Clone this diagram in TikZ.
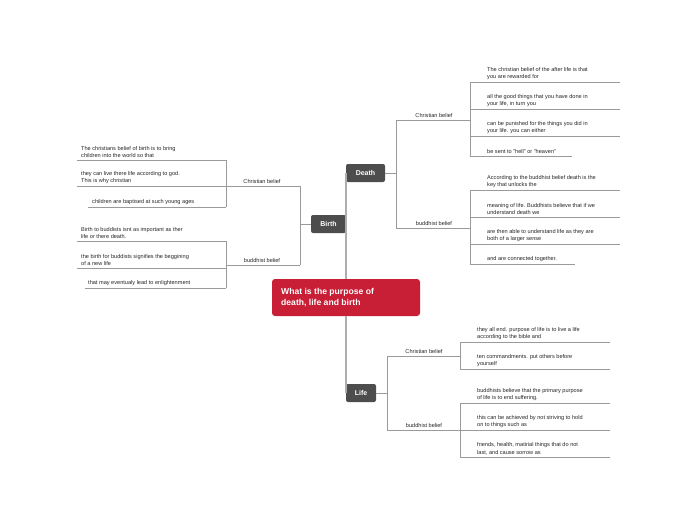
\documentclass[tikz,border=0pt]{standalone}
\usepackage{fontspec}
\setmainfont{Liberation Sans}
\definecolor{rootred}{HTML}{C81E36}
\definecolor{topicgray}{HTML}{4D4D4D}
\definecolor{linegray}{HTML}{9A9A9A}
\tikzset{
  leaf/.style={anchor=south west, inner sep=0pt, align=left, font=\fontsize{5.6}{7.4}\selectfont, text=black!85},
  branchlabel/.style={anchor=south, inner sep=1pt, font=\fontsize{5.6}{7}\selectfont, text=black!85},
  topic/.style={fill=topicgray, text=white, rounded corners=2pt, font=\fontsize{7}{8}\selectfont\bfseries, inner sep=0pt},
  conn/.style={draw=linegray, line width=0.6pt},
  trunk/.style={draw=linegray!80, line width=1.6pt},
}
\begin{document}
\begin{tikzpicture}[x=1pt, y=-1pt]
\useasboundingbox (0,0) rectangle (697,520);

% main topics
\node [fill=rootred, rounded corners=3pt, minimum width=148pt, minimum height=37pt, inner sep=0pt] (root) at (346,297.5) {};
\node [anchor=west, text=white, align=left, inner sep=0pt, font=\fontsize{8.6}{11.5}\selectfont\bfseries] (roottext) at (281,297.5) {What is the purpose of\\death, life and birth};
\node [topic, minimum width=39pt, minimum height=18pt] (death) at (365.5,173) {Death};
\node [topic, minimum width=35pt, minimum height=18pt] (birth) at (328.5,224) {Birth};
\node [topic, minimum width=30pt, minimum height=18pt] (life) at (361,393) {Life};

\draw [trunk] (death.west) -- (root.north -| death.west);
\draw [trunk] (root.south -| life.west) -- (life.west);
\draw [trunk] (birth.east) -- (death.west |- birth.east);

% ---- Death ----
\coordinate (dc) at (460,120);
\coordinate (db) at (460,228);
\draw [conn] (death.east) -- (396,173) (396,120) -- (396,228);
\draw [conn] (396,120) -- (dc) (396,228) -- (db);
\node [branchlabel] (dclabel) at (434,119) {Christian belief};
\node [branchlabel] (dblabel) at (434,227) {buddhist belief};
\draw [conn] (dc) -- (470,120) (db) -- (470,228);
\draw [conn] (470,82) -- (470,156) (470,190) -- (470,264);
\foreach \yy in {82,109,136,190,217,244} \draw [conn] (470,\yy) -- (620,\yy);
\draw [conn] (470,156) -- (572,156) (470,264) -- (575,264);
\node [leaf] (d1) at (487,80) {The christian belief of the after life is that\\you are rewarded for};
\node [leaf] (d2) at (487,107) {all the good things that you have done in\\your life, in turn you};
\node [leaf] (d3) at (487,134) {can be punished for the things you did in\\your life. you can either};
\node [leaf] (d4) at (487,154) {be sent to "hell" or "heaven"};
\node [leaf] (d5) at (487,188) {According to the buddhist belief death is the\\key that unlocks the};
\node [leaf] (d6) at (487,215) {meaning of life. Buddhists believe that if we\\understand death we};
\node [leaf] (d7) at (487,242) {are then able to understand life as they are\\both of a larger sense};
\node [leaf] (d8) at (487,262) {and are connected together.};

% ---- Birth ----
\draw [conn] (birth.west) -- (300,224) (300,186) -- (300,265);
\draw [conn] (300,186) -- (226,186) (300,265) -- (226,265);
\node [branchlabel] (bclabel) at (262,185) {Christian belief};
\node [branchlabel] (bblabel) at (262,264) {buddhist belief};
\draw [conn] (226,160) -- (226,207) (226,241) -- (226,288);
\draw [conn] (77,160) -- (226,160) (77,186) -- (226,186) (88,207) -- (226,207);
\draw [conn] (77,241) -- (226,241) (77,268) -- (226,268) (85,288) -- (226,288);
\node [leaf] (b1) at (81,158) {The christians belief of birth is to bring\\children into the world so that};
\node [leaf] (b2) at (81,184) {they can live there life according to god.\\This is why christian};
\node [leaf] (b3) at (92,205) {children are baptised at such young ages};
\node [leaf] (b4) at (81,239) {Birth to buddists isnt as important as ther\\life or there death.};
\node [leaf] (b5) at (81,266) { the birth for buddists signifies the beggining\\of a new life};
\node [leaf] (b6) at (88,286) {that may eventualy lead to enlightenment};

% ---- Life ----
\draw [conn] (life.east) -- (387,393) (387,356) -- (387,430);
\draw [conn] (387,356) -- (460,356) (387,430) -- (460,430);
\node [branchlabel] (lclabel) at (424,355) {Christian belief};
\node [branchlabel] (lblabel) at (424,429) {buddhist belief};
\draw [conn] (460,342) -- (460,369) (460,403) -- (460,457);
\foreach \yy in {342,369,403,430,457} \draw [conn] (460,\yy) -- (610,\yy);
\node [leaf] (l1) at (477,340) {they all end.  purpose of life is to live a life\\according to the bible and};
\node [leaf] (l2) at (477,367) {ten commandments. put others before\\yourself};
\node [leaf] (l3) at (477,401) {buddhists believe that the primary purpose\\of life is to end suffering.};
\node [leaf] (l4) at (477,428) {this can be achieved by not striving to hold\\on to things such as};
\node [leaf] (l5) at (477,455) { friends, health, matirial things that do not\\last, and cause sorrow as};

\end{tikzpicture}
\end{document}
